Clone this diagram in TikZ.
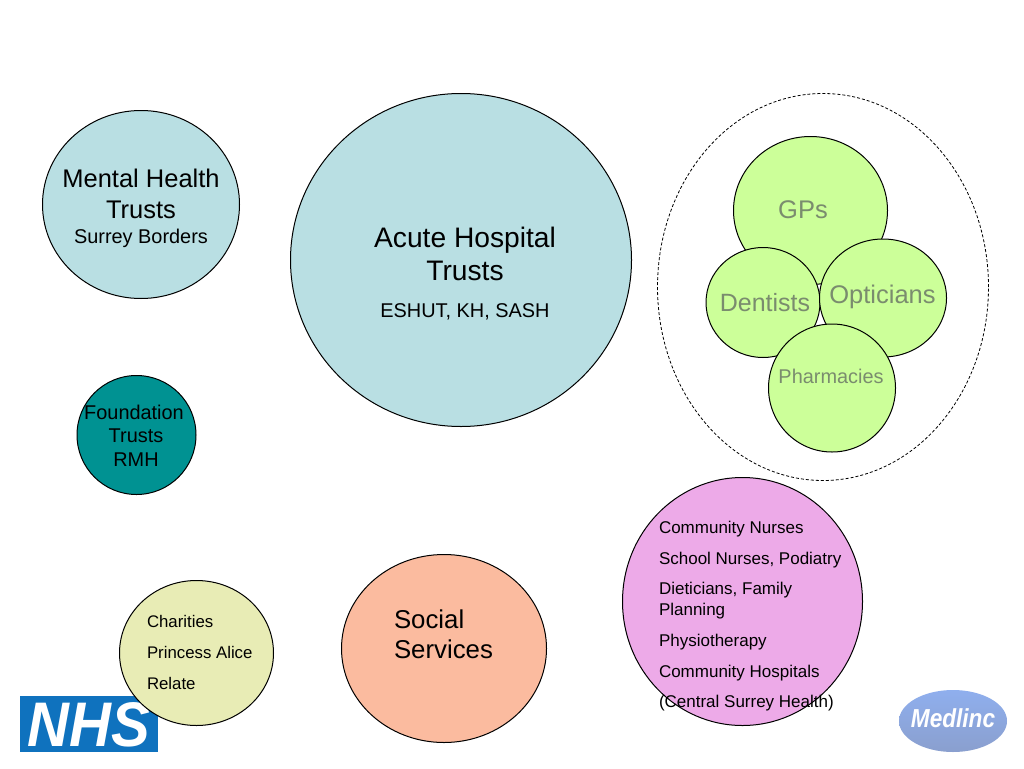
\documentclass[tikz,border=0pt]{standalone}
\usepackage{fontspec}
\setmainfont{Liberation Sans}
\usetikzlibrary{shapes.geometric}
\newcommand{\fs}[1]{\fontsize{#1}{#1}\selectfont}
\tikzset{
  x=1pt,y=-1pt,
  blob/.style={ellipse,draw=black,line width=1pt,inner sep=0pt,outer sep=0pt},
  green blob/.style={blob,fill=limeblob},
  label text/.style={inner sep=0pt,outer sep=0pt,text=black,align=center},
  left text/.style={inner sep=0pt,outer sep=0pt,anchor=west,text=black,align=left},
  grey text/.style={inner sep=0pt,outer sep=0pt,text=greytxt},
}
\definecolor{paleblue}{HTML}{B9DFE3}
\definecolor{tealblob}{HTML}{009292}
\definecolor{limeblob}{HTML}{CCFF99}
\definecolor{greytxt}{HTML}{7A8C6E}
\definecolor{khaki}{HTML}{E8ECB5}
\definecolor{salmon}{HTML}{FBBB9F}
\definecolor{orchid}{HTML}{EDAAE8}
\definecolor{nhsblue}{HTML}{0F72BE}
\definecolor{medtop}{HTML}{8FAFEE}
\definecolor{medbot}{HTML}{8A9FCE}
\begin{document}
\begin{tikzpicture}
\useasboundingbox (0,0) rectangle (1024,768);
\fill[white] (0,0) rectangle (1024,768);
% logos
\node[fill=nhsblue,minimum width=138pt,minimum height=56pt,inner sep=0pt,outer sep=0pt] (nhs) at (89,724) {};
\node[inner sep=0pt,text=white,xscale=0.92] (nhstext) at (89,724.5) {\fs{63}\bfseries\itshape NHS};
\node[ellipse,minimum width=108pt,minimum height=62pt,inner sep=0pt,top color=medtop,bottom color=medbot,draw=none] (med) at (953,721) {};
\node[inner sep=0pt,text=white,xscale=0.87] (medtext) at (953,718) {\fs{26}\bfseries\itshape Medlinc};
% circles
\node[blob,fill=paleblue,minimum width=197pt,minimum height=188pt] (mental) at (141,204.5) {};
\node[blob,fill=paleblue,minimum width=341pt,minimum height=333pt] (acute) at (461,260) {};
\node[blob,fill=tealblob,minimum width=119pt,minimum height=119pt] (found) at (136.5,435) {};
\node[blob,fill=khaki,minimum width=154pt,minimum height=145pt] (char) at (196.5,653) {};
\node[blob,fill=salmon,minimum width=205pt,minimum height=188pt] (social) at (444,648.5) {};
\node[blob,fill=orchid,minimum width=240pt,minimum height=248pt] (comm) at (742.5,601.5) {};
\node[ellipse,draw=black,dash pattern=on 3pt off 2pt,line width=0.8pt,inner sep=0pt,minimum width=331pt,minimum height=387pt] (group) at (823,287) {};
\node[green blob,minimum width=154pt,minimum height=148pt] (gps) at (810.5,210.5) {};
\node[green blob,minimum width=114pt,minimum height=110pt] (dent) at (763,302.5) {};
\node[green blob,minimum width=127pt,minimum height=118pt] (opt) at (883,298) {};
\node[green blob,minimum width=127pt,minimum height=128pt] (pharm) at (832,388) {};
% texts
\node[label text] (t1) at (141,178.5) {\fs{25.5}Mental Health};
\node[label text] (t2) at (141,209.5) {\fs{25.5}Trusts};
\node[label text] (t3) at (141,238) {\fs{19.9}Surrey Borders};
\node[label text] (t4) at (465,240) {\fs{28.2}Acute Hospital};
\node[label text] (t5) at (465,270.5) {\fs{28.2}Trusts};
\node[label text] (t6) at (465,312) {\fs{19.9}ESHUT, KH, SASH};
\node[label text] (t7) at (134,412) {\fs{19.9}Foundation};
\node[label text] (t8) at (136,436) {\fs{19.9}Trusts};
\node[label text] (t9) at (136,460) {\fs{19.9}RMH};
\node[left text] (c1) at (147,621.5) {\fs{16.8}Charities};
\node[left text] (c2) at (147,652.5) {\fs{16.8}Princess Alice};
\node[left text] (c3) at (147,683) {\fs{16.8}Relate};
\node[left text] (s1) at (394,619) {\fs{25.8}Social};
\node[left text] (s2) at (394,649) {\fs{25.8}Services};
\node[left text] (p1) at (659,529) {\fs{17}Community Nurses};
\node[left text] (p2) at (659,560) {\fs{17}School Nurses, Podiatry};
\node[left text] (p3) at (659,590) {\fs{17}Dieticians, Family};
\node[left text] (p4) at (659,611) {\fs{17}Planning};
\node[left text] (p5) at (659,642) {\fs{17}Physiotherapy};
\node[left text] (p6) at (659,673) {\fs{17}Community Hospitals};
\node[left text] (p7) at (659,703) {\fs{17}(Central Surrey Health)};
\node[grey text] (g1) at (803,210) {\fs{25.5}GPs};
\node[grey text] (g2) at (765,303) {\fs{25}Dentists};
\node[grey text] (g3) at (882.5,297) {\fs{25.5}Opticians};
\node[grey text] (g4) at (831,376) {\fs{19.9}Pharmacies};
\end{tikzpicture}
\end{document}
